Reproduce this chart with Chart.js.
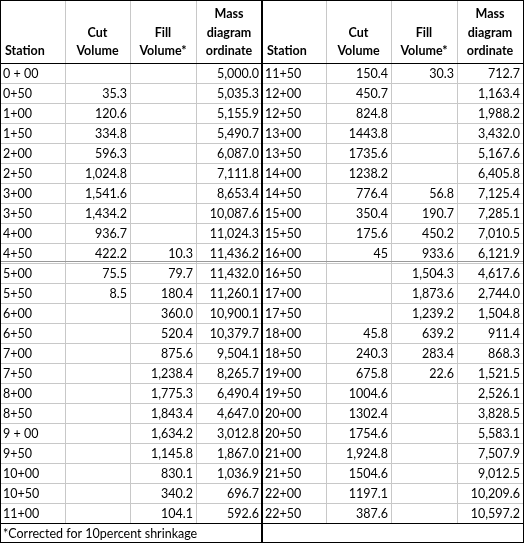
<!DOCTYPE html>
<html><head><meta charset="utf-8">
<script src="https://cdn.jsdelivr.net/npm/chart.js@4/dist/chart.umd.min.js"></script>
<style>html,body{margin:0;background:#fff}#wrap{width:525px;height:543px}</style>
</head><body><div id="wrap"><canvas id="c"></canvas></div>
<script>
// table values, left half then right half
const stationsL = ['0 + 00','0+50','1+00','1+50','2+00','2+50','3+00','3+50','4+00','4+50','5+00','5+50','6+00','6+50','7+00','7+50','8+00','8+50','9 + 00','9+50','10+00','10+50','11+00'];
const cutL = ['','35.3','120.6','334.8','596.3','1,024.8','1,541.6','1,434.2','936.7','422.2','75.5','8.5','','','','','','','','','','',''];
const fillL = ['','','','','','','','','','10.3','79.7','180.4','360.0','520.4','875.6','1,238.4','1,775.3','1,843.4','1,634.2','1,145.8','830.1','340.2','104.1'];
const massL = ['5,000.0','5,035.3','5,155.9','5,490.7','6,087.0','7,111.8','8,653.4','10,087.6','11,024.3','11,436.2','11,432.0','11,260.1','10,900.1','10,379.7','9,504.1','8,265.7','6,490.4','4,647.0','3,012.8','1,867.0','1,036.9','696.7','592.6'];
const stationsR = ['11+50','12+00','12+50','13+00','13+50','14+00','14+50','15+00','15+50','16+00','16+50','17+00','17+50','18+00','18+50','19+00','19+50','20+00','20+50','21+00','21+50','22+00','22+50'];
const cutR = ['150.4','450.7','824.8','1443.8','1735.6','1238.2','776.4','350.4','175.6','45','','','','45.8','240.3','675.8','1004.6','1302.4','1754.6','1,924.8','1504.6','1197.1','387.6'];
const fillR = ['30.3','','','','','','56.8','190.7','450.2','933.6','1,504.3','1,873.6','1,239.2','639.2','283.4','22.6','','','','','','',''];
const massR = ['712.7','1,163.4','1,988.2','3,432.0','5,167.6','6,405.8','7,125.4','7,285.1','7,010.5','6,121.9','4,617.6','2,744.0','1,504.8','911.4','868.3','1,521.5','2,526.1','3,828.5','5,583.1','7,507.9','9,012.5','10,209.6','10,597.2'];
const headers = [['','','Station'],['','Cut','Volume'],['','Fill','Volume*'],['Mass','diagram','ordinate']];
const footnote = '*Corrected for 10percent shrinkage';

const colEdges = [0,65,130,196,262,326,391,457,523];
const headH = 63, rowH = 20;

const tablePlugin = {
  id: 'table',
  afterDraw(chart) {
    const ctx = chart.ctx, xs = chart.scales.x, ys = chart.scales.y;
    const X = v => xs.getPixelForValue(v), Y = v => ys.getPixelForValue(v);
    const cols = [stationsL, cutL, fillL, massL, stationsR, cutR, fillR, massR];
    const n = stationsL.length;
    const yRow = i => headH + i * rowH;
    ctx.save();
    // grid
    ctx.strokeStyle = '#c8c8c8'; ctx.lineWidth = 1;
    for (let i = 1; i < n; i++) {
      ctx.beginPath(); ctx.moveTo(X(0), Y(yRow(i)) + .5); ctx.lineTo(X(523), Y(yRow(i)) + .5); ctx.stroke();
    }
    for (let c = 1; c < colEdges.length - 1; c++) {
      if (c === 4) continue;
      ctx.beginPath(); ctx.moveTo(X(colEdges[c]) + .5, Y(0)); ctx.lineTo(X(colEdges[c]) + .5, Y(yRow(n))); ctx.stroke();
    }
    ctx.strokeStyle = '#999';
    ctx.beginPath(); ctx.moveTo(X(0), Y(yRow(10)) - 1.5); ctx.lineTo(X(523), Y(yRow(10)) - 1.5); ctx.stroke();
    ctx.strokeStyle = '#000';
    ctx.strokeRect(X(0) + .5, Y(0) + .5, X(523) - X(0), Y(543) - Y(0) - 1);
    ctx.beginPath(); ctx.moveTo(X(0), Y(headH) + .5); ctx.lineTo(X(523), Y(headH) + .5); ctx.stroke();
    ctx.beginPath(); ctx.moveTo(X(0), Y(yRow(n)) + .5); ctx.lineTo(X(523), Y(yRow(n)) + .5); ctx.stroke();
    ctx.lineWidth = 2;
    ctx.beginPath(); ctx.moveTo(X(262), Y(0)); ctx.lineTo(X(262), Y(543)); ctx.stroke();
    // headers
    ctx.fillStyle = '#000'; ctx.textBaseline = 'alphabetic';
    ctx.font = 'bold 12.5px Lato, "Open Sans", sans-serif';
    for (let c = 0; c < 8; c++) {
      const h = headers[c % 4];
      h.forEach((t, k) => {
        if (!t) return;
        if (c % 4 === 0) { ctx.textAlign = 'left'; ctx.fillText(t, X(colEdges[c]) + 5, Y(18 + k * 18.5)); }
        else { ctx.textAlign = 'center'; ctx.fillText(t, (X(colEdges[c]) + X(colEdges[c + 1])) / 2, Y(18 + k * 18.5)); }
      });
    }
    // body
    ctx.font = '12.5px Lato, "Open Sans", sans-serif';
    cols.forEach((col, c) => {
      col.forEach((t, i) => {
        const yy = Y(yRow(i) + 14.5);
        if (c % 4 === 0) { ctx.textAlign = 'left'; ctx.fillText(t, X(colEdges[c]) + 3, yy); }
        else { ctx.textAlign = 'right'; ctx.fillText(t, X(colEdges[c + 1]) - 3, yy); }
      });
    });
    ctx.textAlign = 'left';
    ctx.fillText(footnote, X(0) + 3, Y(yRow(n) + 14.5));
    ctx.restore();
  }
};

new Chart(document.getElementById('c'), {
  type: 'scatter',
  data: { datasets: [{ data: [] }] },
  options: {
    responsive: true, maintainAspectRatio: false, animation: false,
    layout: { padding: 0 },
    plugins: { legend: { display: false }, tooltip: { enabled: false } },
    scales: {
      x: { type: 'linear', min: 0, max: 525, display: false },
      y: { type: 'linear', min: 0, max: 543, reverse: true, display: false }
    }
  },
  plugins: [tablePlugin]
});
</script></body></html>
